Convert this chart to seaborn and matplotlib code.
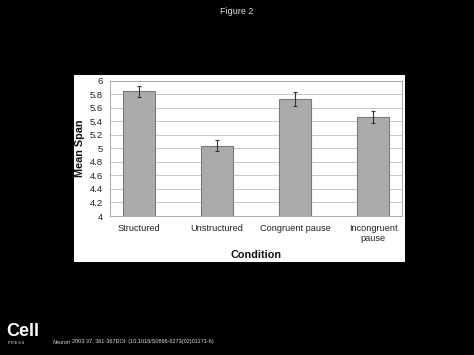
import numpy as np
import pandas as pd
import seaborn as sns
import matplotlib.pyplot as plt
from matplotlib.patches import Rectangle

conditions = ['Structured', 'Unstructured', 'Congruent pause', 'Incongruent\npause']
mean_span = [5.84, 5.04, 5.73, 5.46]
sem = [0.08, 0.08, 0.10, 0.09]
yticks = [4, 4.2, 4.4, 4.6, 4.8, 5, 5.2, 5.4, 5.6, 5.8, 6]

df = pd.DataFrame({'Condition': conditions, 'Mean Span': mean_span})

sns.set_style('white')
plt.rcParams['font.family'] = ['Liberation Sans', 'DejaVu Sans']

W, H = 474, 355
fig = plt.figure(figsize=(4.74, 3.55), dpi=100, facecolor='black')

# white panel behind the chart
fig.patches.append(Rectangle((74 / W, 1 - 262 / H), (405 - 74) / W, (262 - 75) / H,
                             transform=fig.transFigure, facecolor='white',
                             edgecolor='none', zorder=-5))

ax = fig.add_axes([110 / W, 1 - 216 / H, (402 - 110) / W, (216 - 80.5) / H])
ax.set_facecolor('white')

sns.barplot(data=df, x='Condition', y='Mean Span', color='#ababab', width=0.4,
            edgecolor='#7a7a7a', linewidth=0.8, saturation=1, errorbar=None, ax=ax,
            zorder=3)
ax.errorbar(np.arange(len(conditions)), mean_span, yerr=sem, fmt='none',
            ecolor='#333333', elinewidth=0.8, capsize=1.5, capthick=0.8, zorder=4)

ax.set_ylim(4, 6)
ax.set_yticks(yticks)
ax.set_yticklabels(['4', '4.2', '4.4', '4.6', '4.8', '5', '5.2', '5.4', '5.6', '5.8', '6'])
ax.yaxis.grid(True, color='#c8c8c8', linewidth=0.7, zorder=0)
ax.set_axisbelow(True)
for s in ax.spines.values():
    s.set_color('#b0b0b0')
    s.set_linewidth(0.8)

ax.tick_params(axis='y', labelsize=6.8, colors='#222222', pad=5, length=0)
ax.tick_params(axis='x', labelsize=6.6, colors='#222222', pad=6, length=0)
for lab in ax.get_xticklabels():
    lab.set_linespacing(1.1)
    lab.set_verticalalignment('top')

ax.set_xlabel('Condition', fontsize=7.8, fontweight='bold', color='#111111', labelpad=5)
ax.set_ylabel('Mean Span', fontsize=7.8, fontweight='bold', color='#111111', labelpad=3.5)

fig.text(237 / W, 1 - 12 / H, 'Figure 2', ha='center', va='center',
         fontsize=6.5, color='#dddddd')

# Cell Press logo and citation
fig.text(6 / W, 1 - 332 / H, 'Cell', ha='left', va='center', fontsize=13,
         fontweight='bold', color='white')
fig.text(8 / W, 1 - 343 / H, 'P R E S S', ha='left', va='center', fontsize=2.6,
         color='white')
fig.text(53 / W, 1 - 342 / H, 'Neuron', ha='left', va='center', fontsize=4,
         style='italic', color='#dddddd')
fig.text(72 / W, 1 - 342 / H, '2003 37, 361-367DOI: (10.1016/S0896-6273(02)01171-6)',
         ha='left', va='center', fontsize=4, color='#dddddd')

fig.savefig('out.png', dpi=100, facecolor='black')
